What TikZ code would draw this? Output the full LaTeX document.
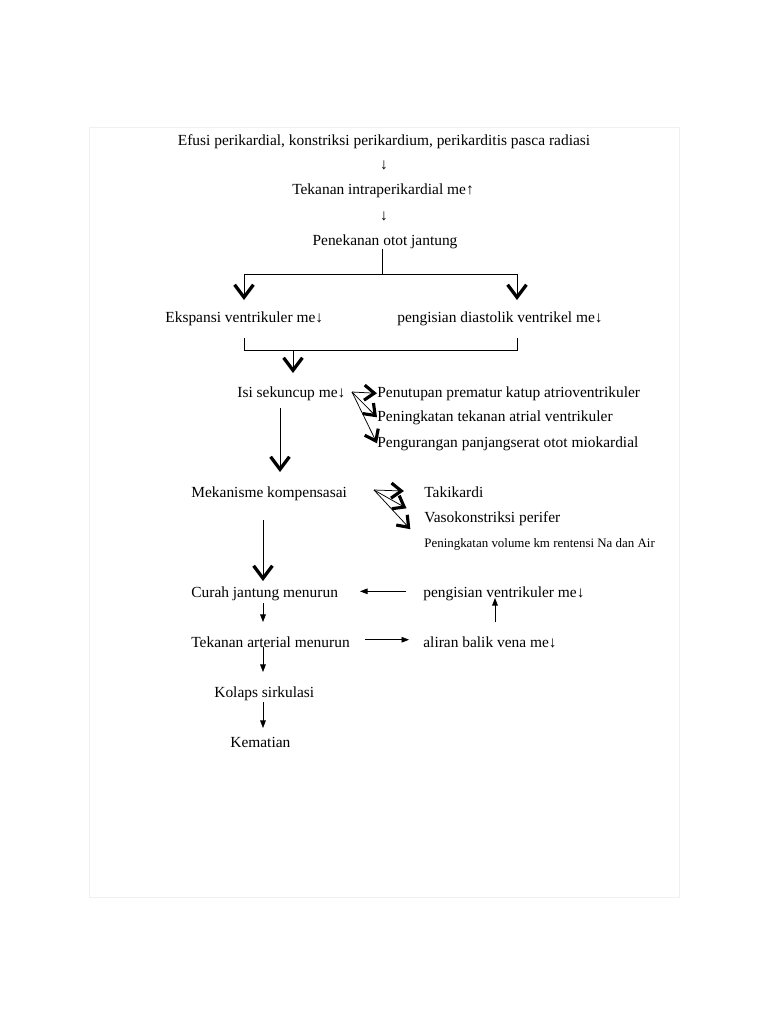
\documentclass[tikz,border=0pt]{standalone}
\usepackage{fontspec}
\setmainfont{Liberation Serif}
\usetikzlibrary{arrows.meta}

\begin{document}
\begin{tikzpicture}[x=0.797pt,y=-0.797pt,line width=0.6pt]
	\tikzset{txt/.style={inner sep=0pt,font=\fontsize{12.3}{14}\selectfont}}
	\tikzset{smalltxt/.style={inner sep=0pt,font=\fontsize{10.3}{12}\selectfont}}
	\tikzset{bigv/.style={-{Straight Barb[length=10pt,width=15pt,line width=2.6pt]}}}
	\tikzset{fanv/.style={-{Straight Barb[length=8pt,width=12pt,line width=2.5pt]}}}
	\tikzset{smallarr/.style={-{Triangle[length=6pt,width=4.5pt]}}}
	\useasboundingbox (0,0) rectangle (768,1024);
	\draw[gray!12] (89,127) rectangle (679,897);
	% top chain
	\node[txt,anchor=base] (efusi) at (384,145) {Efusi perikardial, konstriksi perikardium, perikarditis pasca radiasi};
	\node[txt,anchor=base] (down1) at (384,169) {↓};
	\node[txt,anchor=base] (tekanan) at (383,194) {Tekanan intraperikardial me↑};
	\node[txt,anchor=base] (down2) at (384,220) {↓};
	\node[txt,anchor=base] (penekanan) at (385,245) {Penekanan otot jantung};
	% branch
	\coordinate (split) at (382,274);
	\coordinate (splitl) at (244,274);
	\coordinate (splitr) at (517,274);
	\coordinate (tipl) at (244,300);
	\coordinate (tipr) at (517,300);
	\draw (penekanan.south) ++(-3,0) coordinate (pk) -- (split);
	\draw (splitl) -- (splitr);
	\draw[bigv] (splitl) -- (tipl);
	\draw[bigv] (splitr) -- (tipr);
	\node[txt,anchor=base west] (ekspansi) at (165,322) {Ekspansi ventrikuler me↓};
	\node[txt,anchor=base west] (diastolik) at (397,322) {pengisian diastolik ventrikel me↓};
	% join
	\coordinate (joinl) at (244,338);
	\coordinate (joinr) at (517,338);
	\coordinate (joinm) at (293,350);
	\coordinate (jointip) at (293,373);
	\draw (joinl) |- (joinr |- joinm) -- (joinr);
	\draw[bigv] (joinm) -- (jointip);
	\node[txt,anchor=base west] (isi) at (237,397) {Isi sekuncup me↓};
	\node[txt,anchor=base west] (penutupan) at (377,397) {Penutupan prematur katup atrioventrikuler};
	\node[txt,anchor=base west] (peningkatan) at (377,421) {Peningkatan tekanan atrial ventrikuler};
	\node[txt,anchor=base west] (pengurangan) at (377,447) {Pengurangan panjangserat otot miokardial};
	\coordinate (isifan) at (352,392);
	\draw[fanv] (isifan) -- (penutupan.west);
	\draw[fanv] (isifan) -- (peningkatan.west);
	\draw[fanv] (isifan) -- (pengurangan.west);
	\coordinate (isitop) at (280,408);
	\coordinate (isitip) at (280,472);
	\draw[bigv] (isitop) -- (isitip);
	% compensation
	\node[txt,anchor=base west] (mekanisme) at (191,497) {Mekanisme kompensasai};
	\node[txt,anchor=base west] (takikardi) at (424,497) {Takikardi};
	\node[txt,anchor=base west] (vaso) at (424,522) {Vasokonstriksi perifer};
	\node[smalltxt,anchor=base west] (volume) at (424,547) {Peningkatan volume km rentensi Na dan Air};
	\coordinate (mekfan) at (374,490);
	\draw[fanv,shorten >=16pt] (mekfan) -- (takikardi.west);
	\draw[fanv,shorten >=16pt] (mekfan) -- (vaso.west);
	\draw[fanv,shorten >=16pt] (mekfan) -- (volume.west);
	\coordinate (mektop) at (263,520);
	\coordinate (mektip) at (263,581);
	\draw[bigv] (mektop) -- (mektip);
	% bottom chain
	\node[txt,anchor=base west] (curah) at (191,597) {Curah jantung menurun};
	\node[txt,anchor=base west] (pengisian) at (423,597) {pengisian ventrikuler me↓};
	\node[txt,anchor=base west] (arterial) at (191,647) {Tekanan arterial menurun};
	\node[txt,anchor=base west] (aliran) at (423,647) {aliran balik vena me↓};
	\node[txt,anchor=base west] (kolaps) at (214,697) {Kolaps sirkulasi};
	\node[txt,anchor=base west] (kematian) at (230,747) {Kematian};
	\draw[smallarr] (pengisian.west) ++(-17,-2) coordinate (pgl) -- ++(-46,0) coordinate (pgr);
	\draw[smallarr] (263,603) coordinate (cur1) -- (263,622) coordinate (cur2);
	\draw[smallarr] (arterial.east) ++(15,-2) coordinate (art1) -- ++(44,0) coordinate (art2);
	\draw[smallarr] (495,622) coordinate (al1) -- (495,598) coordinate (al2);
	\draw[smallarr] (263,647) coordinate (ak1) -- (263,672) coordinate (ak2);
	\draw[smallarr] (263,702) coordinate (km1) -- (263,728) coordinate (km2);
\end{tikzpicture}
\end{document}
